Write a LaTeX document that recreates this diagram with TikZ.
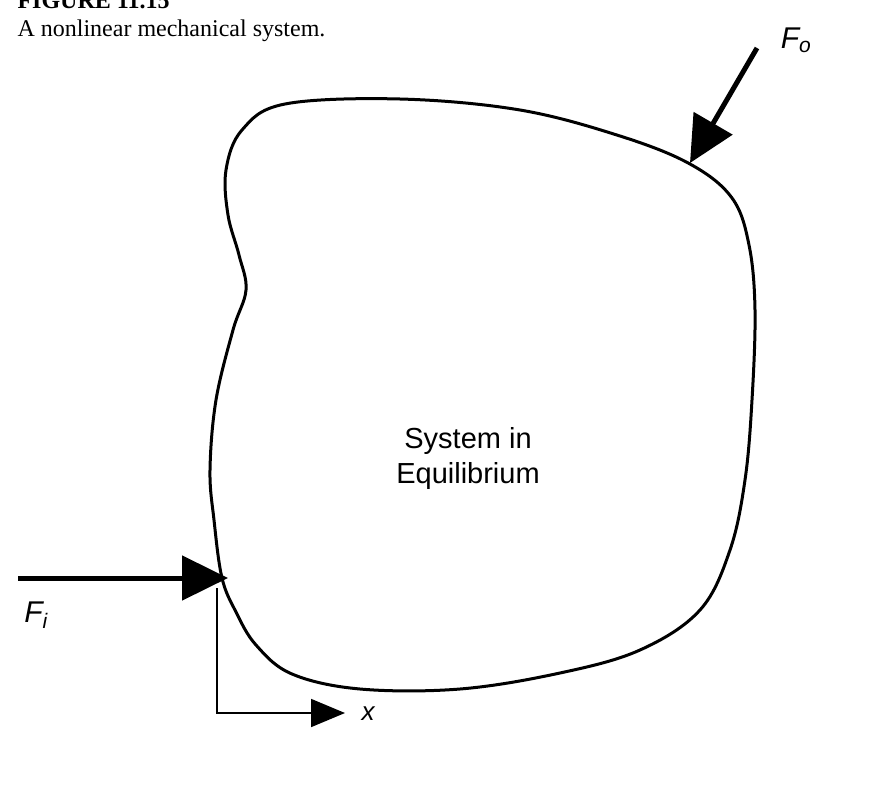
\documentclass[tikz,border=0pt]{standalone}
\usepackage{fontspec}
\setmainfont{Liberation Serif}
\setsansfont{Liberation Sans}
\usetikzlibrary{arrows.meta}
\begin{document}
\begin{tikzpicture}[x=1pt,y=-1pt,
  force/.style={line width=5pt,-{Triangle[length=46pt,width=44pt]}},
  lbl/.style={font=\sffamily\itshape\fontsize{30}{32}\selectfont}]
\useasboundingbox (0,0) rectangle (886,798);
\node[anchor=base west,font=\bfseries\fontsize{24}{26}\selectfont] (fig) at (14,8) {FIGURE 11.15};
\node[anchor=base west,font=\fontsize{24}{26}\selectfont] (cap) at (14,36) {A nonlinear mechanical system.};
\draw[line width=3pt] plot[smooth cycle,tension=0.6] coordinates {
 (222,578) (214,520) (210,470) (216,400) (233,330) (246,290) (239,255) (228,215)
 (226,170) (242,130) (285,104) (400,99) (520,110) (620,136) (690,164) (732,198)
 (749,245) (755,310) (752,400) (745,480) (730,550) (700,610) (640,650) (560,673)
 (460,689) (360,689) (292,674) (256,645) (236,612)};
\coordinate (fotail) at (757,48);
\coordinate (fotip) at (690,163);
\coordinate (fitail) at (18,578);
\coordinate (fitip) at (228,578);
\draw[force] (fotail) -- (fotip);
\draw[force] (fitail) -- (fitip);
\node[lbl] (fo) at (796,40) {F\textsubscript{o}};
\node[lbl] (fi) at (36,615) {F\textsubscript{i}};
\coordinate (xs) at (217,588);
\coordinate (xc) at (217,713);
\coordinate (xe) at (345,713);
\draw[line width=1.8pt,-{Triangle[length=34pt,width=28pt]}] (xs) -- (xc) -- (xe);
\node[lbl,font=\sffamily\itshape\fontsize{26}{28}\selectfont] (xl) at (368,714) {x};
\node[align=center,font=\sffamily\fontsize{29}{35}\selectfont] (sys) at (468,458) {System in\\Equilibrium};
\end{tikzpicture}
\end{document}
